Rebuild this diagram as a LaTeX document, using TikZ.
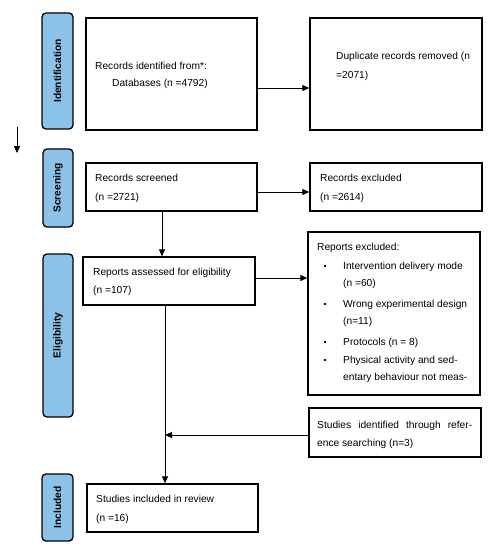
\documentclass[tikz,border=0pt]{standalone}
\usepackage{fontspec}
\setmainfont{Liberation Sans}
\usetikzlibrary{arrows.meta}
\definecolor{phase}{RGB}{140,194,232}
\begin{document}
\begin{tikzpicture}[x=1pt,y=-1pt,
  box/.style={draw=black,line width=1.3pt,fill=white,inner sep=0pt},
  phasebox/.style={draw=black,line width=1.3pt,fill=phase,rounded corners=4pt,rotate=90,inner sep=0pt,font=\fontsize{10.2}{12}\selectfont\bfseries},
  txt/.style={anchor=base west,inner sep=0pt,font=\fontsize{10.2}{12}\selectfont},
  arr/.style={line width=0.9pt,-{Triangle[length=7pt,width=6pt]}},
  ln/.style={line width=0.9pt}]
\useasboundingbox[fill=white] (0,0) rectangle (490,550);

% phase labels
\node[phasebox,minimum width=116pt,minimum height=31pt] (l1) at (57.5,71) {Identification};
\node[phasebox,minimum width=78pt,minimum height=30pt] (l2) at (58,188) {Screening};
\node[phasebox,minimum width=163pt,minimum height=30pt] (l3) at (58,335.5) {Eligibility};
\node[phasebox,minimum width=67pt,minimum height=31pt] (l4) at (57.5,507.5) {Included};

% boxes
\node[box,minimum width=171pt,minimum height=112pt] (b1) at (171.5,74) {};
\node[box,minimum width=172pt,minimum height=112pt] (b2) at (396,74) {};
\node[box,minimum width=171pt,minimum height=48pt] (b3) at (171.5,187) {};
\node[box,minimum width=172pt,minimum height=48pt] (b4) at (396,187) {};
\node[box,minimum width=172pt,minimum height=48pt] (b5) at (169,281) {};
\node[box,minimum width=172pt,minimum height=163pt] (b6) at (394,313.5) {};
\node[box,minimum width=172pt,minimum height=49pt] (b7) at (395,432.5) {};
\node[box,minimum width=171pt,minimum height=48pt] (b8) at (172.5,508) {};

% texts
\node[txt] (t1a) at (95,69.5) {Records identified from*:};
\node[txt] (t1b) at (112,86.5) {Databases (n =4792)};
\node[txt] (t2a) at (336,59.5) {Duplicate records removed (n};
\node[txt] (t2b) at (336,78.5) {=2071)};
\node[txt] (t3a) at (95,181.5) {Records screened};
\node[txt] (t3b) at (95,200.5) {(n =2721)};
\node[txt] (t4a) at (320,181.5) {Records excluded};
\node[txt] (t4b) at (320,200.5) {(n =2614)};
\node[txt] (t5a) at (93,275.5) {Reports assessed for eligibility};
\node[txt] (t5b) at (93,293.5) {(n =107)};
\node[txt] (t6) at (317,250.5) {Reports excluded:};
\foreach \yy in {269.5,307.5,345.5,363.5}
  \fill (325,\yy-3.5) circle (1.3pt);
\node[txt] (t6a) at (343,269.5) {Intervention delivery mode};
\node[txt] (t6b) at (343,286.5) {(n =60)};
\node[txt] (t6c) at (343,307.5) {Wrong experimental design};
\node[txt] (t6d) at (343,324.5) {(n=11)};
\node[txt] (t6e) at (343,345.5) {Protocols (n = 8)};
\node[txt] (t6f) at (343,363.5) {Physical activity and sed-};
\node[txt] (t6g) at (343,380.5) {entary behaviour not meas-};
\node[txt] (t7a) at (317,428.5) {\makebox[155pt][s]{Studies identified through refer-}};
\node[txt] (t7b) at (317,446.5) {ence searching (n=3)};
\node[txt] (t8a) at (96,502.5) {Studies included in review};
\node[txt] (t8b) at (96,521.5) {(n =16)};

% connectors
\coordinate (s1) at (17,127);
\coordinate (s2) at (17,153);
\draw[arr] (s1) -- (s2);
\coordinate (y1) at (0,88);
\draw[arr] (b1.east |- y1) -- (b2.west |- y1);
\coordinate (y2) at (0,192);
\draw[arr] (b3.east |- y2) -- (b4.west |- y2);
\coordinate (x1) at (162,0);
\draw[arr] (b3.south -| x1) -- (b5.north -| x1);
\coordinate (y3) at (0,278);
\draw[arr] (b5.east |- y3) -- (b6.west |- y3);
\coordinate (x2) at (165,0);
\draw[arr] (b5.south -| x2) -- (b8.north -| x2);
\coordinate (y4) at (0,435);
\draw[arr] (b7.west |- y4) -- (x2 |- y4);
\end{tikzpicture}
\end{document}
